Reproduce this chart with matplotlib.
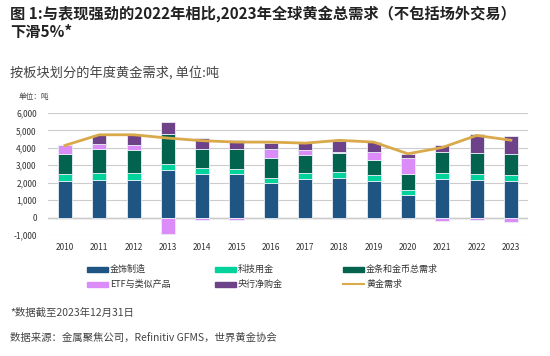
import numpy as np
import matplotlib
matplotlib.use('Agg')
import matplotlib.pyplot as plt
from matplotlib.patches import Rectangle
from matplotlib.lines import Line2D

plt.rcParams['font.family'] = ['Noto Sans CJK SC', 'DejaVu Sans']

# Annual gold demand by sector, tonnes
years = [2010, 2011, 2012, 2013, 2014, 2015, 2016, 2017, 2018, 2019, 2020, 2021, 2022, 2023]
jewellery = [2070, 2150, 2160, 2720, 2510, 2490, 1990, 2220, 2260, 2110, 1300, 2200, 2160, 2110]
technology = [420, 380, 390, 350, 340, 310, 290, 330, 330, 340, 290, 330, 330, 340]
bar_coin = [1150, 1400, 1300, 1740, 1080, 1110, 1110, 1030, 1090, 860, 920, 1210, 1230, 1190]
etf = [500, 280, 330, -960, -170, -130, 540, 310, 90, 430, 900, -210, -130, -270]
central_banks = [40, 540, 530, 670, 630, 550, 340, 380, 600, 590, 250, 420, 1070, 1020]
total_demand = [4140, 4750, 4750, 4560, 4410, 4330, 4330, 4270, 4430, 4330, 3660, 4020, 4710, 4440]

labels = ['金饰制造', '科技用金', '金条和金币总需求', 'ETF与类似产品', '央行净购金', '黄金需求']
colors = ['#1f5583', '#00d39b', '#02634f', '#dc8cf8', '#6e4288', '#d9a94a']

fig = plt.figure(figsize=(5.5, 3.56), dpi=100)
ax = fig.add_axes([0.087, 0.340, 0.873, 0.3426])

x = np.array(years)
w = 0.41
pos_base = np.zeros(len(years))
neg_base = np.zeros(len(years))
series = [jewellery, technology, bar_coin, etf, central_banks]
for vals, c in zip(series, colors[:5]):
    v = np.array(vals, dtype=float)
    bottom = np.where(v >= 0, pos_base, neg_base)
    ax.bar(x, v, width=w, bottom=bottom, color=c, edgecolor='#e8eef4',
           linewidth=0.6, zorder=2)
    pos_base += np.where(v >= 0, v, 0)
    neg_base += np.where(v < 0, v, 0)

ax.plot(x, total_demand, color=colors[5], linewidth=2, zorder=3)

ax.set_xlim(2009.5, 2023.5)
ax.set_ylim(-1000, 6000)
ax.set_yticks(range(-1000, 6001, 1000))
ax.set_yticklabels(['{:,}'.format(v) for v in range(-1000, 6001, 1000)])
ax.set_xticks(years)
ax.set_xticklabels([str(y) for y in years])
ax.tick_params(axis='both', length=0, labelsize=6, colors='#333333')
ax.tick_params(axis='y', pad=8)
ax.tick_params(axis='x', pad=6)
ax.grid(axis='y', color='#cccccc', linewidth=0.8, zorder=0)
ax.axhline(0, color='#aaaaaa', linewidth=1, zorder=1)
for s in ax.spines.values():
    s.set_visible(False)

# titles
fig.text(0.018, 0.985, '图 1:与表现强劲的2022年相比,2023年全球黄金总需求（不包括场外交易）\n下滑5%*',
         fontsize=11, fontweight='bold', color='#222222', va='top', linespacing=1.15)
fig.text(0.018, 0.795, '按板块划分的年度黄金需求, 单位:吨', fontsize=9.5, color='#444444', va='center')
fig.text(0.033, 0.727, '单位：吨', fontsize=5.5, color='#444444', va='center')

# legend
cols_x = [87, 215, 343]
rows_y = [269, 284]
order = [(0, 0), (1, 0), (2, 0), (0, 1), (1, 1), (2, 1)]
for i, (cx, ry) in enumerate(order):
    px, py = cols_x[cx] / 550, 1 - rows_y[ry] / 356
    if i < 5:
        fig.add_artist(Rectangle((px, py - 2.5 / 356), 21 / 550, 5 / 356,
                                 color=colors[i], transform=fig.transFigure))
    else:
        fig.add_artist(Line2D([px, px + 21 / 550], [py, py], color=colors[i],
                              linewidth=1.5, transform=fig.transFigure))
    fig.text(px + 23 / 550, py, labels[i], fontsize=6.5, color='#333333', va='center')

fig.text(0.018, 1 - 313 / 356, '*数据截至2023年12月31日', fontsize=7.5, color='#444444', va='center')
fig.text(0.018, 1 - 338 / 356, '数据来源：金属聚焦公司，Refinitiv GFMS，世界黄金协会', fontsize=7.5,
         color='#444444', va='center')

fig.savefig('out.png', dpi=100)
